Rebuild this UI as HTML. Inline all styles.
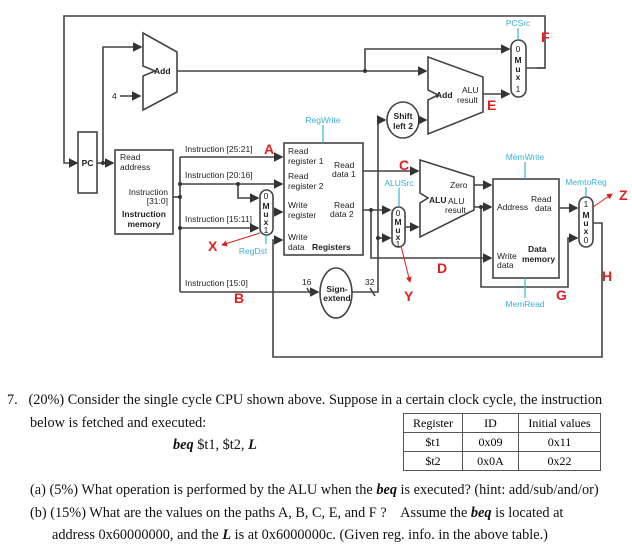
<!DOCTYPE html>
<html><head><meta charset="utf-8"><style>
body{margin:0;background:#fff;width:632px;height:548px;overflow:hidden;position:relative;font-family:"Liberation Sans",sans-serif}
svg{position:absolute;left:0;top:0}
.t{font-family:"Liberation Serif",serif;font-size:14.3px;line-height:18px;color:#111;position:absolute;white-space:nowrap}
table{position:absolute;left:403px;top:413px;border-collapse:collapse;font-family:"Liberation Serif",serif;font-size:12px}
td{border:1px solid #555;text-align:center;height:18px;line-height:18px;padding:0}
</style></head><body>
<svg width="632" height="548" viewBox="0 0 632 548" font-family="Liberation Sans, sans-serif">
<defs><marker id="a" markerWidth="6" markerHeight="6" refX="5" refY="3" orient="auto"><path d="M0,0L6,3L0,6z" fill="#333"/></marker>
<marker id="r" markerWidth="6" markerHeight="6" refX="5" refY="3" orient="auto"><path d="M0,0L6,3L0,6z" fill="#e0201c"/></marker></defs>
<g stroke="#444" stroke-width="1.6" fill="none">
<polyline points="537,68 545,68 545,16 64,16 64,163 77,163" marker-end="url(#a)"/>
<rect x="78" y="132" width="19" height="61" fill="#fff"/>
<polyline points="97,163 113,163" marker-end="url(#a)"/>
<polyline points="103,163 103,47 141,47" marker-end="url(#a)"/>
<polyline points="120,96 140,96" marker-end="url(#a)"/>
<polygon points="143,33 177,52 177,92 143,110 143,76 155,71 143,66" fill="#fff"/>
<polyline points="177,71 426,71" marker-end="url(#a)"/>
<polyline points="365,71 365,49 509,49" marker-end="url(#a)"/>
<polygon points="428,57 483,77 483,112 428,134 428,100 438,95 428,90" fill="#fff"/>
<polyline points="483,94 509,94" marker-end="url(#a)"/>
<rect x="511" y="40" width="15" height="57" rx="7.5" fill="#fff"/>
<line x1="526" y1="68" x2="545" y2="68"/>
<rect x="115" y="150" width="58" height="84" fill="#fff"/>
<polyline points="173,197 180,197"/>
<line x1="180" y1="157" x2="180" y2="292"/>
<polyline points="180,157 282,157" marker-end="url(#a)"/>
<polyline points="180,184 282,184" marker-end="url(#a)"/>
<polyline points="238,184 238,198 258,198" marker-end="url(#a)"/>
<polyline points="180,228 258,228" marker-end="url(#a)"/>
<polyline points="180,292 318,292" marker-end="url(#a)"/>
<rect x="260" y="190" width="13" height="45" rx="6.5" fill="#fff"/>
<polyline points="273,212 282,212" marker-end="url(#a)"/>
<rect x="284" y="143" width="79" height="112" fill="#fff"/>
<ellipse cx="336" cy="293" rx="16" ry="25" fill="#fff"/>
<polyline points="352,292 378,292 378,120 385,120" marker-end="url(#a)"/>
<ellipse cx="403" cy="120" rx="16" ry="18" fill="#fff"/>
<polyline points="419,120 426,120" marker-end="url(#a)"/>
<polyline points="363,171 418,171" marker-end="url(#a)"/>
<polyline points="363,210 390,210" marker-end="url(#a)"/>
<polyline points="378,238 390,238" marker-end="url(#a)"/>
<polyline points="371,210 371,258 491,258" marker-end="url(#a)"/>
<rect x="392" y="207" width="13" height="40" rx="6.5" fill="#fff"/>
<polyline points="405,227 418,227" marker-end="url(#a)"/>
<polygon points="420,160 474,177 474,210 420,237 420,203 428,198 420,193" fill="#fff"/>
<polyline points="474,185 491,185" marker-end="url(#a)"/>
<polyline points="474,207 491,207" marker-end="url(#a)"/>
<polyline points="481,207 481,287 568,287 568,238 577,238" marker-end="url(#a)"/>
<rect x="493" y="179" width="66" height="99" fill="#fff"/>
<polyline points="559,208 577,208" marker-end="url(#a)"/>
<rect x="579" y="197" width="14" height="50" rx="7" fill="#fff"/>
<polyline points="593,223 602,223 602,357 273,357 273,240 282,240" marker-end="url(#a)"/>
<line x1="307" y1="288" x2="312" y2="296"/><line x1="370" y1="288" x2="375" y2="296"/>
</g>
<g stroke="#3ab0d8" stroke-width="1.2">
<line x1="323" y1="125" x2="323" y2="143"/><line x1="518" y1="28" x2="518" y2="40"/>
<line x1="266" y1="235" x2="266" y2="244"/><line x1="399" y1="188" x2="399" y2="207"/>
<line x1="525" y1="162" x2="525" y2="179"/><line x1="525" y1="278" x2="525" y2="298"/>
<line x1="586" y1="187" x2="586" y2="197"/>
</g>
<g fill="#333"><circle cx="103" cy="163" r="2"/><circle cx="365" cy="71" r="2"/><circle cx="180" cy="184" r="2"/><circle cx="180" cy="197" r="2"/><circle cx="180" cy="228" r="2"/><circle cx="238" cy="184" r="2"/><circle cx="371" cy="210" r="2"/><circle cx="378" cy="238" r="2"/><circle cx="481" cy="207" r="2"/></g>
<g stroke="#e0201c" stroke-width="1"><line x1="260" y1="233" x2="222" y2="245" marker-end="url(#r)"/><line x1="401" y1="246" x2="410" y2="282" marker-end="url(#r)"/><line x1="593" y1="207" x2="612" y2="194" marker-end="url(#r)"/></g>
<g font-size="8.5" fill="#222">
<text x="87.5" y="166" text-anchor="middle" font-weight="bold">PC</text>
<text x="154" y="74" font-weight="bold">Add</text>
<text x="112" y="99">4</text>
<text x="436" y="98" font-weight="bold">Add</text><text x="462" y="93">ALU</text><text x="457" y="103">result</text>
<text x="518" y="52" text-anchor="middle">0</text><text x="518" y="63" text-anchor="middle" font-weight="bold">M</text><text x="518" y="72" text-anchor="middle" font-weight="bold">u</text><text x="518" y="80" text-anchor="middle" font-weight="bold">x</text><text x="518" y="92" text-anchor="middle">1</text>
<text x="120" y="160">Read</text><text x="120" y="170">address</text>
<text x="168" y="195" text-anchor="end">Instruction</text><text x="168" y="204" text-anchor="end">[31:0]</text>
<text x="144" y="217" text-anchor="middle" font-weight="bold">Instruction</text><text x="144" y="227" text-anchor="middle" font-weight="bold">memory</text>
<text x="185" y="152">Instruction [25:21]</text><text x="185" y="178">Instruction [20:16]</text><text x="185" y="222">Instruction [15:11]</text><text x="185" y="286">Instruction [15:0]</text>
<text x="266" y="199" text-anchor="middle">0</text><text x="266" y="209" text-anchor="middle" font-weight="bold">M</text><text x="266" y="217" text-anchor="middle" font-weight="bold">u</text><text x="266" y="225" text-anchor="middle" font-weight="bold">x</text><text x="266" y="233" text-anchor="middle">1</text>
<text x="288" y="154">Read</text><text x="288" y="164">register 1</text><text x="288" y="179">Read</text><text x="288" y="189">register 2</text>
<text x="288" y="208">Write</text><text x="288" y="218">register</text><text x="288" y="240">Write</text><text x="288" y="250">data</text>
<text x="312" y="250" font-weight="bold">Registers</text>
<text x="334" y="168">Read</text><text x="332" y="177">data 1</text><text x="334" y="208">Read</text><text x="330" y="217">data 2</text>
<text x="302" y="285">16</text><text x="365" y="285">32</text>
<text x="337" y="292" text-anchor="middle" font-weight="bold">Sign-</text><text x="337" y="301" text-anchor="middle" font-weight="bold">extend</text>
<text x="403" y="119" text-anchor="middle" font-weight="bold">Shift</text><text x="403" y="129" text-anchor="middle" font-weight="bold">left 2</text>
<text x="398" y="216" text-anchor="middle">0</text><text x="398" y="225" text-anchor="middle" font-weight="bold">M</text><text x="398" y="233" text-anchor="middle" font-weight="bold">u</text><text x="398" y="240" text-anchor="middle" font-weight="bold">x</text><text x="398" y="247" text-anchor="middle">1</text>
<text x="450" y="188">Zero</text><text x="429" y="203" font-weight="bold">ALU</text><text x="448" y="204">ALU</text><text x="445" y="213">result</text>
<text x="497" y="210">Address</text><text x="531" y="202">Read</text><text x="535" y="211">data</text>
<text x="497" y="259">Write</text><text x="497" y="268">data</text><text x="528" y="252" font-weight="bold">Data</text><text x="522" y="262" font-weight="bold">memory</text>
<text x="586" y="207" text-anchor="middle">1</text><text x="586" y="218" text-anchor="middle" font-weight="bold">M</text><text x="586" y="226" text-anchor="middle" font-weight="bold">u</text><text x="586" y="234" text-anchor="middle" font-weight="bold">x</text><text x="586" y="243" text-anchor="middle">0</text>
</g>
<g font-size="8.5" fill="#3ab0d8" text-anchor="middle">
<text x="323" y="123">RegWrite</text><text x="518" y="26">PCSrc</text><text x="253" y="254">RegDst</text><text x="399" y="186">ALUSrc</text>
<text x="525" y="160">MemWrite</text><text x="525" y="307">MemRead</text><text x="586" y="185">MemtoReg</text>
</g>
<g font-size="14" fill="#e0201c" font-weight="bold">
<text x="264" y="154">A</text><text x="234" y="303">B</text><text x="399" y="170">C</text><text x="437" y="273">D</text><text x="487" y="110">E</text><text x="541" y="42">F</text><text x="556" y="300">G</text><text x="602" y="281">H</text><text x="208" y="251">X</text><text x="404" y="301">Y</text><text x="619" y="200">Z</text>
</g>
</svg>
<div class="t" style="left:7px;top:391px">7.&nbsp;&nbsp; (20%) Consider the single cycle CPU shown above. Suppose in a certain clock cycle, the instruction</div>
<div class="t" style="left:30px;top:414px">below is fetched and executed:</div>
<div class="t" style="left:173px;top:436px"><b><i>beq</i></b> $t1, $t2, <b><i>L</i></b></div>
<table><tr><td style="width:58px">Register</td><td style="width:55px">ID</td><td style="width:81px">Initial values</td></tr>
<tr><td>$t1</td><td>0x09</td><td>0x11</td></tr><tr><td>$t2</td><td>0x0A</td><td>0x22</td></tr></table>
<div class="t" style="left:30px;top:481px">(a) (5%) What operation is performed by the ALU when the <b><i>beq</i></b> is executed? (hint: add/sub/and/or)</div>
<div class="t" style="left:30px;top:504px">(b) (15%) What are the values on the paths A, B, C, E, and F ?&nbsp;&nbsp;&nbsp; Assume the <b><i>beq</i></b> is located at</div>
<div class="t" style="left:52px;top:526px">address 0x60000000, and the <b><i>L</i></b> is at 0x6000000c. (Given reg. info. in the above table.)</div>
</body></html>
